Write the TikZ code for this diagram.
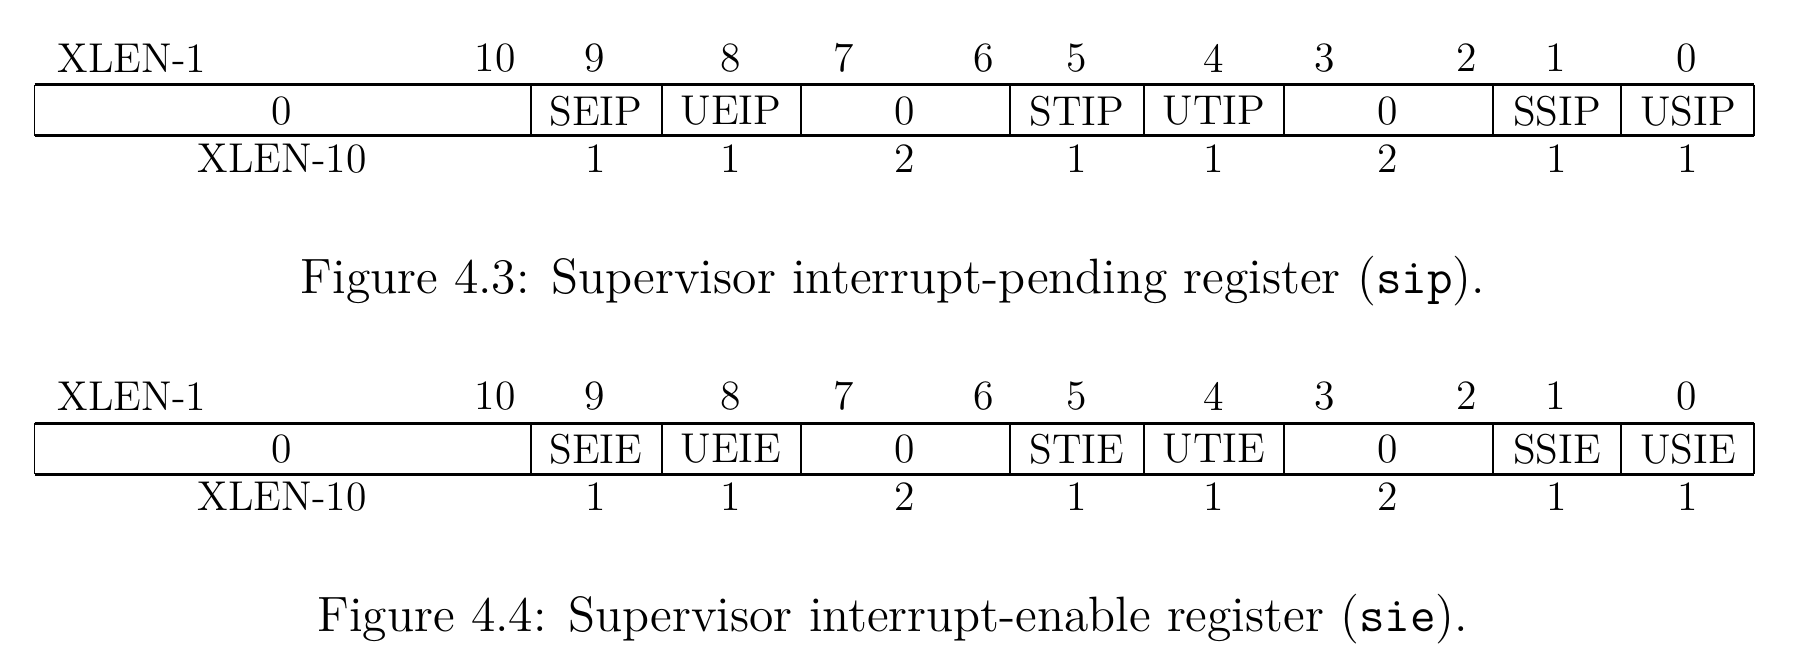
\documentclass[tikz,border=0pt]{standalone}
\begin{document}
\begin{tikzpicture}[x=0.3pt,y=-0.3pt,
  lab/.style={inner sep=0pt,anchor=center,font=\fontsize{12.5}{14}\selectfont},
  figcap/.style={inner sep=0pt,anchor=center,font=\fontsize{14.9}{17}\selectfont}]
\useasboundingbox (0,0) rectangle (1803,651);
\foreach \yo/\s/\n/\c/\w in {0/P/sip/3/pending, 338/E/sie/4/enable}{
 \begin{scope}[yshift=-\yo*0.3pt]
  \draw[line width=0.9pt] (34.5,85) -- (1754,85) (34.5,136) -- (1754,136);
  \draw[line width=0.5pt] (34.5,85) -- (34.5,136) (1754,85) -- (1754,136);
  \foreach \x in {531,662,801,1010,1144,1284,1493,1621} \draw[line width=0.5pt] (\x,85) -- (\x,136);
  \foreach \x/\t in {132/XLEN-1,495/10,595/9,731/8,844/7,984/6,1077/5,1214/4,1325/3,1467/2,1556/1,1687/0}
    \node[lab] (t\x) at (\x,58) {\t};
  \foreach \x/\t in {282/0,596/SEI\s,731/UEI\s,905/0,1077/STI\s,1214/UTI\s,1388/0,1557/SSI\s,1688/USI\s}
    \node[lab] (f\x) at (\x,111) {\t};
  \foreach \x/\t in {282/XLEN-10,596/1,731/1,905/2,1077/1,1214/1,1388/2,1557/1,1688/1}
    \node[lab] (w\x) at (\x,159) {\t};
  \node[figcap] (c\n) at (893,281) {Figure 4.\c: Supervisor interrupt-\w{} register (\texttt{\n}).};
 \end{scope}}
\end{tikzpicture}
\end{document}
